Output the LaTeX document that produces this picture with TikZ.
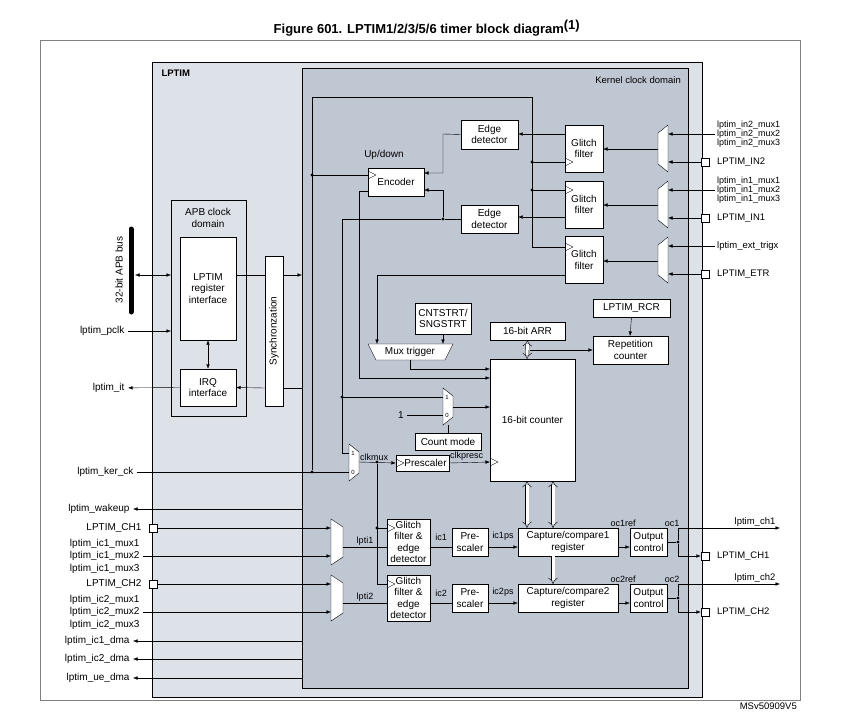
\documentclass[tikz,border=0pt]{standalone}
\usepackage{fontspec}
\setmainfont{Liberation Sans}
\usetikzlibrary{positioning,calc,arrows.meta}
\definecolor{outerbg}{HTML}{DDE1E8}
\definecolor{kernbg}{HTML}{BFC7D3}
\newcommand{\muxL}[3]{\draw[fill=white] (#1-5,#2+8) -- (#1+5,#2) -- (#1+5,#3) -- (#1-5,#3-8) -- cycle;}
\newcommand{\muxR}[3]{\draw[fill=white] (#1-6,#2) -- (#1+6,#2+8) -- (#1+6,#3-8) -- (#1-6,#3) -- cycle;}
\newcommand{\clk}[2]{\draw (#1,#2-4) -- (#1+8,#2) -- (#1,#2+4);}
\begin{document}
\begin{tikzpicture}[x=1pt,y=-1pt,>={Latex[length=4.5pt,width=3.5pt]},
				every node/.style={font=\fontsize{10}{11.5}\selectfont},
				blk/.style={draw,fill=white,align=center,inner sep=1pt},
				pin/.style={draw,fill=white,minimum size=8pt,inner sep=0pt},
				lbl/.style={font=\fontsize{9.5}{10}\selectfont,inner sep=1pt},
				sml/.style={font=\fontsize{9}{9}\selectfont,inner sep=1pt},
				dot/.style={circle,fill,inner sep=1.2pt},
				bus/.style={double,double distance=3pt,{Implies}-{Implies}}]
				\useasboundingbox (0,0) rectangle (854,720);
				\node[font=\bfseries\fontsize{13}{15}\selectfont] (title) at (427,28) {Figure 601. LPTIM1/2/3/5/6 timer block diagram$^{\textbf{(1)}}$};
				\draw[gray] (40,40) rectangle (800,700);
				\draw[thick,fill=outerbg] (152,62) rectangle (702,697);
				\node[font=\bfseries\fontsize{9.5}{10}\selectfont,anchor=west] (lptim) at (158,73) {LPTIM};
				\draw[thick,fill=kernbg] (302,68) rectangle (688,688);
				\node[lbl,anchor=east] (kern) at (682,80) {Kernel clock domain};
				\draw[thick] (171,200) rectangle (246,416);
				\node[align=center] (apbt) at (208,218) {APB clock\\domain};
				% blocks
				\node[blk,minimum width=56,minimum height=103] (regif) at (208,288.5) {LPTIM\\register\\interface};
				\node[blk,minimum width=56,minimum height=37] (irq) at (208,387.5) {IRQ\\interface};
				\node[blk,minimum width=18,minimum height=150] (sync) at (274,331) {};
				\node[rotate=90] at (sync) {Synchronzation};
				\node[blk,minimum width=38,minimum height=47] (gf1) at (584,148.5) {Glitch\\filter};
				\node[blk,minimum width=38,minimum height=47] (gf2) at (584,204.5) {Glitch\\filter};
				\node[blk,minimum width=38,minimum height=47] (gf3) at (584,260) {Glitch\\filter};
				\node[blk,minimum width=57,minimum height=29] (ed1) at (489.5,134.5) {Edge\\detector};
				\node[blk,minimum width=57,minimum height=28] (ed2) at (489.5,219) {Edge\\detector};
				\node[blk,minimum width=56,minimum height=28] (enc) at (396,182) {Encoder};
				\node (updn) at (384,155) {Up/down};
				\node[blk,minimum width=56,minimum height=31] (cnt) at (443,318.5) {CNTSTRT/\\SNGSTRT};
				\node[blk,minimum width=75,minimum height=18] (arr) at (527.5,331) {16-bit ARR};
				\node[blk,minimum width=77,minimum height=18] (rcr) at (631.5,308) {LPTIM\_RCR};
				\node[blk,minimum width=75,minimum height=28] (rep) at (630.5,350) {Repetition\\counter};
				\node[blk,minimum width=85,minimum height=122] (ctr) at (532.5,420) {16-bit counter};
				\node[blk,minimum width=66,minimum height=17] (cmode) at (448,441.5) {Count mode};
				\node[blk,minimum width=53,minimum height=16] (presc) at (422.5,463) {\hspace{6pt}Prescaler};
				\foreach \i/\y in {1/542,2/598} {
					\node[blk,minimum width=43,minimum height=46] (gfe\i) at (408.5,\y) {Glitch\\filter \&\\edge\\detector};
					\node[blk,minimum width=36,minimum height=28] (ps\i) at (470,\y) {Pre-\\scaler};
					\node[blk,minimum width=100,minimum height=28] (cc\i) at (568,\y) {Capture/compare\i\\register};
					\node[blk,minimum width=37,minimum height=28] (oc\i) at (648.5,\y) {Output\\control};
				}
				% clock marks
				\clk{565}{162} \clk{565}{190} \clk{565}{247} \clk{368}{175}
				\clk{396}{463} \clk{490}{462} \clk{387}{528} \clk{387}{584}
				% muxes
				\muxL{663}{125}{172} \muxL{663}{181}{228} \muxL{663}{237}{283}
				\muxR{337}{519}{565} \muxR{337}{575}{621}
				\draw[fill=white] (443,388) -- (453,396) -- (453,417) -- (443,425) -- cycle;
				\node[font=\fontsize{6}{6}\selectfont] at (447,397) {1};
				\node[font=\fontsize{6}{6}\selectfont] at (447,415) {0};
				\draw[fill=white] (349,444) -- (359,452) -- (359,473) -- (349,481) -- cycle;
				\node[font=\fontsize{6}{6}\selectfont] at (353,453) {1};
				\node[font=\fontsize{6}{6}\selectfont] at (353,472) {0};
				\draw[fill=white] (368,344) -- (453,344) -- (445,360) -- (376,360) -- cycle;
				\node (mtrig) at (410,352) {Mux trigger};
				% APB side
				\draw[line width=5pt,line cap=round] (131,229) -- (131,312);
				\node[rotate=90] (apbbus) at (119,270) {32-bit APB bus};
				\draw[<->] (135,275) -- (171,275);
				\node[anchor=east] (pclk) at (128,331) {lptim\_pclk};
				\draw[->] (pclk) -- (171,331);
				\node[anchor=east] (itl) at (128,388) {lptim\_it};
				\draw[->] (irq.west) -- (itl);
				\draw[<->] (regif.south) -- (irq.north);
				\draw (regif.east |- 0,275) -- (sync.west |- 0,275);
				\draw[->] (sync.east |- 0,275) -- (302,275);
				\draw (302,388) -- (sync.east |- 0,388);
				\draw[->] (sync.west |- 0,388) -- (irq.east);
				% kernel clock tree
				\node[anchor=east] (ker) at (137,472) {lptim\_ker\_ck};
				\draw (ker) -- (349,472);
				\node[dot] (kd) at (312,472) {};
				\draw (kd) -- (312,97) -- (532,97) -- (532,247) -- (565,247);
				\node[dot] at (312,175) {}; \draw (312,175) -- (368,175);
				\node[dot] at (532,162) {}; \draw (532,162) -- (565,162);
				\node[dot] at (532,190) {}; \draw (532,190) -- (565,190);
				% filters to edge detectors to encoder
				\draw[->] (gf1.west |- 0,134) -- (ed1.east |- 0,134);
				\draw[->] (gf2.west |- 0,217) -- (ed2.east |- 0,217);
				\draw[->] (ed1.west) -- (443,134) -- (443,173) -- (424,173);
				\node[dot] (edd) at (443,219) {};
				\draw (ed2.west) -- (edd);
				\draw[->] (edd) -- (443,190) -- (424,190);
				\draw (edd) -- (342,219) -- (342,453) -- (349,453);
				\node[dot] at (342,397) {}; \draw (342,397) -- (443,397);
				\draw[->] (368,191) -- (359,191) -- (359,378) -- (490,378);
				\draw[->] (gf3.west |- 0,275) -- (377,275) -- (377,344);
				\draw[->] (cnt.south) -- (443,344);
				\draw[->] (410,360) -- (410,369) -- (490,369);
				\node (one) at (401,415) {1}; \draw (one) -- (443,415);
				\draw (cmode.north) -- (448,425);
				\draw[->] (453,407) -- (490,407);
				\draw[bus] (arr.south) -- (527,359);
				\draw[->] (530,350) -- (rep.west);
				\draw[->] (rcr.south) -- (630,336);
				% prescaler
				\draw[->] (359,462) -- (presc.west);
				\node[sml,anchor=south west] at (359,462) {clkmux};
				\draw[->] (presc.east) -- (490,462);
				\node[sml,anchor=south west] at (449,462) {clkpresc};
				\node[dot] (cd) at (377,462) {};
				\draw (cd) -- (377,584) -- (387,584);
				\node[dot] at (377,528) {}; \draw (377,528) -- (387,528);
				% right inputs
				\node[sml,anchor=west,align=left] at (716,134) {lptim\_in2\_mux1\\lptim\_in2\_mux2\\lptim\_in2\_mux3};
				\node[sml,anchor=west,align=left] at (716,190) {lptim\_in1\_mux1\\lptim\_in1\_mux2\\lptim\_in1\_mux3};
				\foreach \t/\n in {125/IN2,181/IN1,237/ETR} {
					\node[pin] (p\n) at (705,\t+37) {};
					\node[lbl,anchor=west] at (716,\t+37) {LPTIM\_\n};
					\draw[->] (p\n) -- (668,\t+37);
					\draw[->] (715,\t+9) -- (668,\t+9);
					\draw[->] (658,\t+24) -- (603,\t+24);
				}
				\node[lbl,anchor=west] at (716,246) {lptim\_ext\_trigx};
				% bottom channels
				\node[anchor=east] (wk) at (133,509) {lptim\_wakeup};
				\draw[->] (302,509) -- (wk);
				\foreach \i/\y in {1/528,2/584} {
					\node[pin] (chp\i) at (153,\y) {};
					\node[anchor=east] at (145,\y) {LPTIM\_CH\i};
					\draw[->] (chp\i) -- (331,\y);
					\node[anchor=east,align=right,font=\fontsize{10}{12.5}\selectfont] (mx\i) at (143,\y+28) {lptim\_ic\i\_mux1\\lptim\_ic\i\_mux2\\lptim\_ic\i\_mux3};
					\draw[->] (mx\i) -- (331,\y+28);
					\draw (343,\y+19) -- (gfe\i.west |- 0,\y+19);
					\node[sml,anchor=south] at (365,\y+19) {lpti\i};
					\draw (gfe\i.east |- 0,\y+19) -- (ps\i.west |- 0,\y+19);
					\node[sml,anchor=south] at (441,\y+14) {ic\i};
					\draw[->] (ps\i.east |- 0,\y+19) -- (cc\i.west |- 0,\y+19);
					\node[sml,anchor=south] at (503,\y+14) {ic\i ps};
					\draw[->] (cc\i.east |- 0,\y+19) -- (oc\i.west |- 0,\y+19);
					\node[sml,anchor=south] at (623,\y) {oc\i ref};
					\node[sml,anchor=south] at (672,\y) {oc\i};
					\node[dot] (od\i) at (678,\y+14) {};
					\draw (oc\i.east |- 0,\y+14) -- (od\i);
					\draw[->] (od\i) -- (678,\y) -- (780,\y);
					\node[lbl,anchor=south] at (755,\y) {lptim\_ch\i};
					\node[pin] (op\i) at (705,\y+28) {};
					\node[lbl,anchor=west] at (716,\y+28) {LPTIM\_CH\i};
					\draw[->] (od\i) -- (678,\y+28) -- (op\i);
				}
				\draw[bus] (527,481) -- (cc1.north -| 527,0);
				\draw[bus] (553,481) -- (553,528);
				\draw[double,double distance=3pt,-{Implies}] (553,556) -- (553,584);
				\foreach \n/\y in {ic1\_dma/641,ic2\_dma/659,ue\_dma/678} {
					\node[anchor=east] (d\y) at (133,\y) {lptim\_\n};
					\draw[->] (302,\y) -- (d\y);
				}
				\node[lbl,anchor=east] at (798,706) {MSv50909V5};
			\end{tikzpicture}
\end{document}
